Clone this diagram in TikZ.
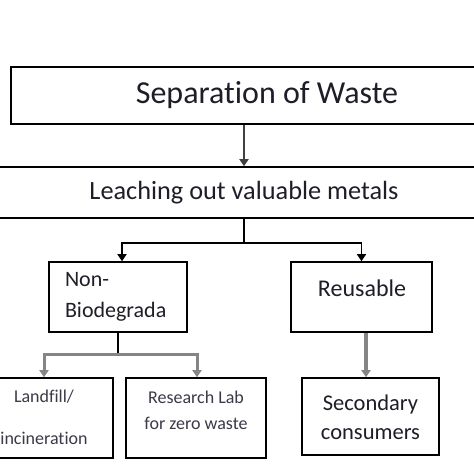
\documentclass[tikz,border=0pt]{standalone}
\usepackage{fontspec}
\setmainfont{Carlito}[Ligatures=NoCommon]
\usetikzlibrary{arrows.meta}
\definecolor{txt}{HTML}{1E1E28}
\definecolor{txtlight}{HTML}{3A3A48}
\definecolor{midgray}{HTML}{858585}
\definecolor{darkline}{HTML}{404040}
\tikzset{
  boxn/.style={draw=black, line width=1.6pt, fill=white, inner sep=0pt, text=txt},
  conn/.style={line width=1.6pt, draw=black},
  gconn/.style={line width=3pt, draw=midgray},
  tip/.style={-{Triangle[width=9pt,length=7pt]}},
}
\begin{document}
\begin{tikzpicture}[x=1pt,y=-1pt]
\useasboundingbox (0,0) rectangle (474,474);
\clip (0,0) rectangle (474,474);
\fill[white] (0,0) rectangle (474,474);

% boxes
\node[boxn, minimum width=512pt, minimum height=57pt, font=\fontsize{32}{36}\selectfont] (top) at (267,95.5) {Separation of Waste};
\node[boxn, minimum width=560pt, minimum height=51pt, font=\fontsize{26.3}{30}\selectfont] (band) at (244,192.5) {Leaching out valuable metals};
\node[boxn, minimum width=138pt, minimum height=70pt, text width=106pt, inner xsep=16pt, align=left, font=\fontsize{22}{31}\selectfont] (non) at (118,297) {Non-\\Biodegrada};
\node[boxn, minimum width=141pt, minimum height=70pt] (reu) at (361.5,297) {};
\node[text=txt, font=\fontsize{24}{28}\selectfont, inner sep=0pt] (reuT) at (362,288) {Reusable};
\node[boxn, minimum width=135pt, minimum height=80pt] (land) at (45.5,418) {};
\node[text=txtlight, font=\fontsize{18}{20}\selectfont, inner sep=0pt] (landA) at (44,397) {Landfill/};
\node[text=txtlight, font=\fontsize{18}{20}\selectfont, inner sep=0pt] (landB) at (44,438) {incineration};
\node[boxn, minimum width=140pt, minimum height=80pt] (res) at (196,418) {};
\node[text=txtlight, align=center, font=\fontsize{18}{26}\selectfont, inner sep=0pt] (resT) at (196,410) {Research Lab\\for zero waste};
\node[boxn, minimum width=137pt, minimum height=77pt] (sec) at (370.5,416.5) {};
\node[text=txt, align=center, font=\fontsize{22.5}{29}\selectfont, inner sep=0pt] (secT) at (370.5,417.5) {Secondary\\consumers};

% connectors
\draw[line width=1.8pt, draw=darkline, tip] (band.north |- top.south) -- (band.north);
\coordinate (j1) at (244,243);
\draw[conn] (band.south) -- (j1);
\draw[conn, tip] (j1) -| ([xshift=4pt]non.north);
\draw[conn, tip] (j1) -| (reu.north);
\coordinate (j2) at (118,354);
\draw[conn, line width=2.2pt] (non.south) -- (j2);
\draw[gconn, tip] (j2) -| ([xshift=-1.5pt]land.north);
\draw[gconn, tip] (j2) -| ([xshift=1pt]res.north);
\draw[gconn, line width=3.2pt, tip] ([xshift=4.5pt]reu.south) -- ([xshift=4.5pt]reu.south |- sec.north);
\end{tikzpicture}
\end{document}
